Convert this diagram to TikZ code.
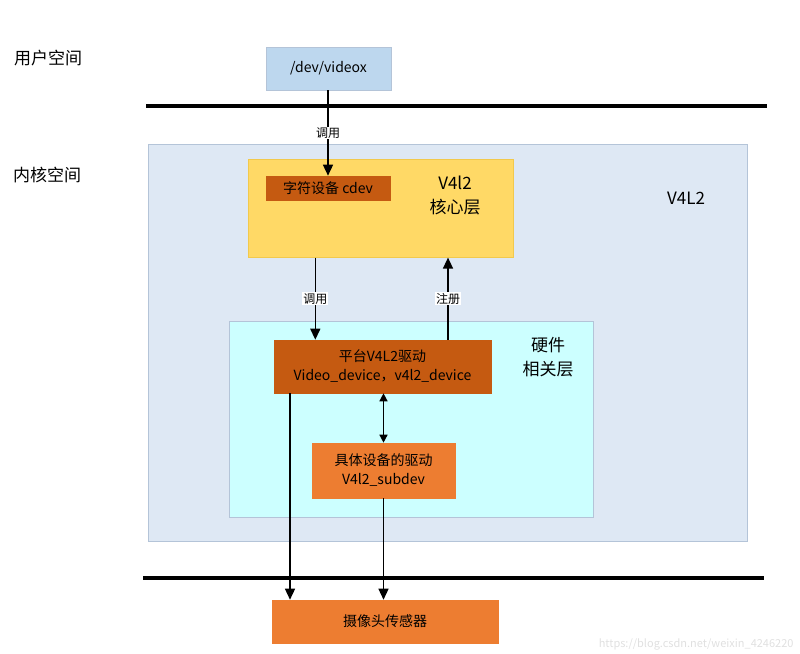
\documentclass[tikz,border=0pt]{standalone}
\usepackage{fontspec}
\setmainfont{Noto Sans CJK SC}
\usetikzlibrary{arrows.meta}
\definecolor{devblue}{HTML}{BDD7EE}
\definecolor{kernbg}{HTML}{DEE8F4}
\definecolor{kernbd}{HTML}{B4C4D8}
\definecolor{coreyel}{HTML}{FFD966}
\definecolor{corebd}{HTML}{F2C94C}
\definecolor{hwcyan}{HTML}{CCFFFF}
\definecolor{rust}{HTML}{C55A11}
\definecolor{orng}{HTML}{ED7D31}
\tikzset{
  every node/.style={font=\fontsize{14}{19}\selectfont, align=center},
  box/.style={draw=#1, line width=0.6pt, inner sep=0pt},
  arr/.style={-{Triangle[length=11pt,width=10pt]}, line width=1.4pt},
  lbl/.style={fill=white, inner sep=1pt, font=\fontsize{12}{14}\selectfont},
  big/.style={font=\fontsize{17}{24}\selectfont}
}
\begin{document}
\begin{tikzpicture}[x=1pt,y=-1pt]
\useasboundingbox (0,0) rectangle (800,653);
% regions
\node[box=kernbd, fill=kernbg, minimum width=599, minimum height=397, anchor=north west] (kern) at (148,144) {};
\node[box=corebd, fill=coreyel, minimum width=265, minimum height=98, anchor=north west] (core) at (248,159) {};
\node[box=kernbd, fill=hwcyan, minimum width=364, minimum height=196, anchor=north west] (hw) at (229,321) {};
% boxes
\node[box=kernbd, fill=devblue, minimum width=125, minimum height=43] (dev) at (328.5,68.5) {/dev/videox};
\node[box=rust, fill=rust, minimum width=124, minimum height=24] (cdev) at (328,188) {字符设备 cdev};
\node[box=rust, fill=rust, minimum width=217, minimum height=53] (plat) at (382.5,366.5) {平台V4L2驱动\\Video\_device，v4l2\_device};
\node[box=orng, fill=orng, minimum width=143, minimum height=55] (sub) at (383.5,470.5) {具体设备的驱动\\V4l2\_subdev};
\node[box=orng, fill=orng, minimum width=226, minimum height=43] (sens) at (385,621.5) {摄像头传感器};
% titles
\node[big] (user) at (48,58) {用户空间};
\node[big] (kspace) at (47,175) {内核空间};
\node[big] (v4l2) at (686,198) {V4L2};
\node[big] (coret) at (455,195) {V4l2\\核心层};
\node[big] (hwt) at (548,357) {硬件\\相关层};
\node[text=black!12, font=\fontsize{11}{13}\selectfont, anchor=east] (wm) at (797,644) {https://blog.csdn.net/weixin\_4246220};
% separators
\coordinate (s1a) at (146,106); \coordinate (s1b) at (767,106);
\coordinate (s2a) at (143,578); \coordinate (s2b) at (764,578);
\draw[line width=3.5pt] (s1a) -- (s1b);
\draw[line width=3.5pt] (s2a) -- (s2b);
% connectors
\draw[arr] (dev.south -| cdev.north) -- node[lbl] {调用} (cdev.north);
\draw[arr] ([xshift=-65.5pt]core.south) -- node[lbl, pos=0.5] {调用} ([xshift=-65.5pt]core.south |- plat.north);
\draw[arr] ([xshift=65.5pt]plat.north) -- node[lbl] {注册} ([xshift=65.5pt]plat.north |- core.south);
\draw[{Triangle[length=8pt,width=8pt]}-{Triangle[length=8pt,width=8pt]}, line width=1.4pt] (sub.north |- plat.south) -- (sub.north);
\draw[arr] ([xshift=-92.5pt]plat.south) -- ([xshift=-92.5pt]plat.south |- sens.north);
\draw[arr] (sub.south) -- (sub.south |- sens.north);
\end{tikzpicture}
\end{document}
